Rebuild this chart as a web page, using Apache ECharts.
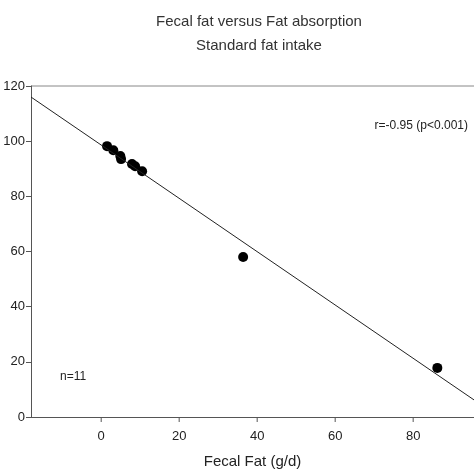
<!DOCTYPE html><html><head><meta charset="utf-8">
<script src="https://cdn.jsdelivr.net/npm/echarts@6/dist/echarts.min.js"></script>
<style>html,body{margin:0;padding:0;background:#fff}#c{width:474px;height:474px}</style></head><body><div id="c"></div>
<script>
const fecalFat=[1.5,3.1,4.9,5.1,7.9,8.7,10.5,36.4,86.2];
const fatAbsorption=[98.2,96.7,94.6,93.5,91.7,90.9,89.1,58,17.8];
const fitLine=[[-18,116],[95.6,6.2]];
const xTicks=[0,20,40,60,80];
const F='Liberation Sans, Arial, sans-serif';
const chart=echarts.init(document.getElementById('c'));
chart.setOption({
 animation:false,
 title:{text:'Fecal fat versus Fat absorption\nStandard fat intake',left:254,textAlign:'center',top:5,textStyle:{fontFamily:F,fontWeight:'normal',fontSize:15,color:'#333',lineHeight:24}},
 grid:{left:31,right:0,top:86,bottom:57},
 xAxis:{type:'value',min:-18,max:95.6,axisLine:{onZero:false,lineStyle:{color:'#555'}},axisTick:{show:false},axisLabel:{show:false},splitLine:{show:false},
   name:'Fecal Fat (g/d)',nameLocation:'middle',nameGap:37,nameTextStyle:{fontFamily:F,fontSize:15,color:'#222'}},
 yAxis:{type:'value',min:0,max:120,interval:20,axisLine:{show:true,onZero:false,lineStyle:{color:'#555'}},axisTick:{show:true,length:5,lineStyle:{color:'#555'}},
   axisLabel:{fontFamily:F,fontSize:13,color:'#222',margin:6},splitLine:{show:false}},
 graphic:[
  {type:'line',shape:{x1:31,y1:86,x2:474,y2:86},style:{stroke:'#888',lineWidth:1}},
  {type:'text',right:6,top:120,style:{text:'r=-0.95 (p<0.001)',font:'12px '+F,fill:'#222'}},
  {type:'text',left:60,top:371,style:{text:'n=11',font:'12px '+F,fill:'#222'}}
 ],
 series:[
  {type:'line',data:fitLine,symbol:'none',lineStyle:{color:'#222',width:1},silent:true},
  {type:'scatter',data:fecalFat.map((v,i)=>[v,fatAbsorption[i]]),symbolSize:10,itemStyle:{color:'#000',opacity:1}},
  {type:'custom',data:xTicks.map(v=>[v,0]),renderItem:(p,api)=>{const pt=api.coord([api.value(0),0]);return {type:'group',children:[
    {type:'line',shape:{x1:pt[0],y1:pt[1],x2:pt[0],y2:pt[1]+5},style:{stroke:'#555',lineWidth:1}},
    {type:'text',style:{text:String(api.value(0)),x:pt[0],y:pt[1]+13,align:'center',verticalAlign:'top',font:'13px '+F,fill:'#222'}}]};}}
 ]
});
</script></body></html>
